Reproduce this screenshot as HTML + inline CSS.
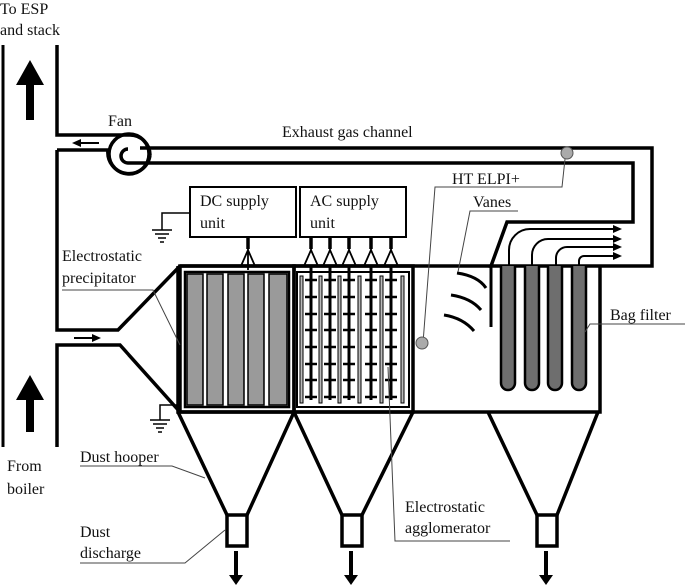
<!DOCTYPE html>
<html><head><style>
html,body{margin:0;padding:0;background:#fff;}
svg{display:block;}
text{font-family:"Liberation Serif",serif;font-size:16px;fill:#111;}
</style></head><body>
<svg width="685" height="586" viewBox="0 0 685 586" xmlns="http://www.w3.org/2000/svg">
<g fill="none" stroke="#000" stroke-width="3.5" stroke-linejoin="miter">
<!-- left duct -->
<line x1="3" y1="45" x2="3" y2="447" stroke-width="3"/>
<path d="M57 45 V135 H130 A20 20 0 0 1 150 155"/>
<path d="M57 447 V345 H120 L180 412"/>
<path d="M57 150 H108 A21 21 0 1 0 150 155 M57 150 V330 H118 L180 266"/>
<!-- fan circle -->
<circle cx="129" cy="154" r="20"/>
<path d="M140 148 H652 V266 H491 L507 222 H633 V163 H128 A7 7 0 0 1 128 149"/>
<!-- housing -->
<path d="M180 266 H491 M600 266 V412 H178 V266"/>
<rect x="180" y="266" width="114" height="146"/>
<rect x="294" y="266" width="119" height="146"/>
<line x1="491" y1="266" x2="491" y2="327" stroke-width="3"/>
<!-- hoppers -->
<path d="M178 412 L227 515 M247 515 L294 412 L342 515 M362 515 L413 412"/>
<path d="M488 412 L537 515 M557 515 L598 412"/>
<rect x="227" y="515" width="20" height="31"/>
<rect x="342" y="515" width="20" height="31"/>
<rect x="537" y="515" width="20" height="31"/>
<!-- supply boxes -->
<rect x="190" y="187" width="106" height="50" stroke-width="2"/>
<rect x="300" y="187" width="106" height="50" stroke-width="2"/>
</g>
<!-- ESP inner -->
<rect x="185" y="272" width="104" height="135" fill="none" stroke="#000" stroke-width="2.5"/>
<g fill="#9a9a9a" stroke="#000" stroke-width="1.5">
<rect x="187" y="274" width="16" height="131"/>
<rect x="207" y="274" width="16" height="131"/>
<rect x="228" y="274" width="16" height="131"/>
<rect x="248" y="274" width="16" height="131"/>
<rect x="269" y="274" width="18" height="131"/>
</g>
<!-- agglomerator inner -->
<rect x="297" y="272" width="112" height="135" fill="none" stroke="#000" stroke-width="2"/>
<g fill="#bbb" stroke="#000" stroke-width="1">
<rect x="300" y="276" width="3" height="127"/>
<rect x="319" y="276" width="3" height="127"/>
<rect x="338" y="276" width="3" height="127"/>
<rect x="358" y="276" width="3" height="127"/>
<rect x="380" y="276" width="3" height="127"/>
<rect x="401" y="276" width="3" height="127"/>
</g>
<g stroke="#000" stroke-width="3" id="el">
<line x1="311" y1="266" x2="311" y2="400"/>
<line x1="330" y1="266" x2="330" y2="400"/>
<line x1="349" y1="266" x2="349" y2="400"/>
<line x1="371" y1="266" x2="371" y2="400"/>
<line x1="391" y1="266" x2="391" y2="400"/>
</g>
<g stroke="#000" stroke-width="2.5">
<path d="M305 280h12M305 297h12M305 314h12M305 330h12M305 347h12M305 364h12M305 380h12M305 397h12"/>
<path d="M324 280h12M324 297h12M324 314h12M324 330h12M324 347h12M324 364h12M324 380h12M324 397h12"/>
<path d="M343 280h12M343 297h12M343 314h12M343 330h12M343 347h12M343 364h12M343 380h12M343 397h12"/>
<path d="M365 280h12M365 297h12M365 314h12M365 330h12M365 347h12M365 364h12M365 380h12M365 397h12"/>
<path d="M385 280h12M385 297h12M385 314h12M385 330h12M385 347h12M385 364h12M385 380h12M385 397h12"/>
</g>
<!-- connectors -->
<g fill="none" stroke="#000" stroke-width="1.8">
<path d="M248 237v13 M248 250 L241 266 M248 250 L255 266 M248 250 V270"/>
<path d="M311 237v13 l-7 16 M311 250 l7 16"/>
<path d="M330 237v13 l-7 16 M330 250 l7 16"/>
<path d="M349 237v13 l-7 16 M349 250 l7 16"/>
<path d="M371 237v13 l-7 16 M371 250 l7 16"/>
<path d="M391 237v13 l-7 16 M391 250 l7 16"/>
</g>
<g stroke="#000" stroke-width="3.5"><path d="M248 237v12M311 237v12M330 237v12M349 237v12M371 237v12M391 237v12"/></g>
<!-- grounds -->
<g fill="none" stroke="#000" stroke-width="1.5">
<path d="M190 213 H162 V230"/>
<path d="M152 230h20M155 234h14M158 238h8M160 242h4"/>
<path d="M180 405 H160 V420"/>
<path d="M150 420h20M153 424h14M156 428h8M158 432h4"/>
</g>
<!-- bag filters -->
<g fill="#6e6e6e" stroke="#000" stroke-width="2.5">
<path d="M501 266 V383 a7 7 0 0 0 14 0 V266"/>
<path d="M525 266 V383 a7 7 0 0 0 14 0 V266"/>
<path d="M548 266 V383 a7 7 0 0 0 14 0 V266"/>
<path d="M572 266 V383 a7 7 0 0 0 14 0 V266"/>
</g>
<g fill="none" stroke="#000" stroke-width="2">
<path d="M509 265 V250 a21 21 0 0 1 21 -21 H613"/>
<path d="M532 265 V255 a16 16 0 0 1 16 -16 H613"/>
<path d="M556 265 V258 a11 11 0 0 1 11 -11 H613"/>
<path d="M579 265 V261 a5 5 0 0 1 5 -5 H613"/>
</g>
<g fill="#000">
<path d="M622 229 l-9 -4 v8z M622 239 l-9 -4 v8z M622 247 l-9 -4 v8z M622 256 l-9 -4 v8z"/>
</g>
<!-- vanes -->
<g fill="none" stroke="#000" stroke-width="3">
<path d="M457 273 Q478 276 486 288"/>
<path d="M451 295 Q471 298 481 310"/>
<path d="M444 315 Q463 318 474 331"/>
</g>
<!-- big arrows -->
<g fill="#000">
<path d="M30 60 L44 85 H34 V120 H26 V85 H16Z"/>
<path d="M30 375 L44 400 H34 V432 H26 V400 H16Z"/>
<path d="M72 143 l9 -4 v3 h18 v2 h-18 v3z"/>
<path d="M101 338 l-9 -4 v3 h-18 v2 h18 v3z"/>
<path d="M236 585 l-7 -10 h5 v-24 h4 v24 h5z"/>
<path d="M351 585 l-7 -10 h5 v-24 h4 v24 h5z"/>
<path d="M546 585 l-7 -10 h5 v-24 h4 v24 h5z"/>
</g>
<!-- probes -->
<g fill="none" stroke="#444" stroke-width="1">
<path d="M565 159 L562 187 H435 L423 343"/>
<path d="M518 211 H470 L458 272"/>
<path d="M62 290 H153 L180 345"/>
<path d="M80 466 H172 L205 478"/>
<path d="M80 563 H185 L225 530"/>
<path d="M510 541 H395 L388 367"/>
<path d="M685 324 H590 L585 332"/>
</g>
<circle cx="567" cy="153" r="6" fill="#aaa" stroke="#555"/>
<circle cx="422" cy="343" r="6" fill="#aaa" stroke="#555"/>
<!-- labels -->
<text x="0" y="14">To ESP</text>
<text x="0" y="35">and stack</text>
<text x="108" y="126">Fan</text>
<text x="282" y="137">Exhaust gas channel</text>
<text x="452" y="184">HT ELPI+</text>
<text x="473" y="207">Vanes</text>
<text x="200" y="206">DC supply</text>
<text x="200" y="228">unit</text>
<text x="310" y="206">AC supply</text>
<text x="310" y="228">unit</text>
<text x="62" y="261">Electrostatic</text>
<text x="62" y="283">precipitator</text>
<text x="610" y="320">Bag filter</text>
<text x="7" y="471">From</text>
<text x="7" y="494">boiler</text>
<text x="80" y="462">Dust hooper</text>
<text x="80" y="537">Dust</text>
<text x="80" y="558">discharge</text>
<text x="405" y="512">Electrostatic</text>
<text x="405" y="533">agglomerator</text>
</svg>
</body></html>
